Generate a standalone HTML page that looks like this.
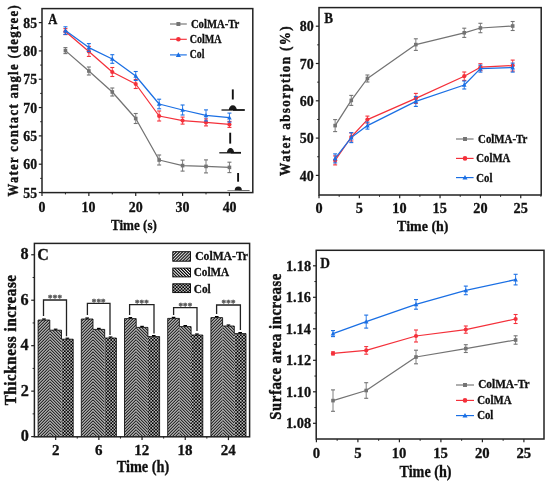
<!DOCTYPE html>
<html><head><meta charset="utf-8"><style>
html,body{margin:0;padding:0;background:#fff;}
svg{display:block;will-change:transform;}
text{font-family:"Liberation Serif",serif;}
</style></head><body>
<svg width="550" height="482" viewBox="0 0 550 482">
<rect width="550" height="482" fill="#fff"/>
<defs>
<pattern id="p1" width="2.16" height="4" patternUnits="userSpaceOnUse" patternTransform="rotate(45)"><rect width="1.18" height="4" fill="#000"/></pattern>
<pattern id="p2" width="2.16" height="4" patternUnits="userSpaceOnUse" patternTransform="rotate(-45)"><rect width="1.18" height="4" fill="#000"/></pattern>
<pattern id="p3" width="3.2" height="3.2" patternUnits="userSpaceOnUse"><rect width="3.2" height="3.2" fill="#000"/><rect x="0.1" y="0.1" width="1.35" height="1.35" fill="#fff"/><rect x="1.7" y="1.7" width="1.35" height="1.35" fill="#fff"/></pattern>
</defs>
<line x1="38.80" y1="192.52" x2="42.00" y2="192.52" stroke="#222" stroke-width="1.2" />
<text x="23.31" y="197.52" font-family="Liberation Serif, serif" font-weight="bold" font-size="15" fill="#111" stroke="#111" stroke-width="0.3" textLength="13.80" lengthAdjust="spacingAndGlyphs">55</text>
<line x1="38.80" y1="164.20" x2="42.00" y2="164.20" stroke="#222" stroke-width="1.2" />
<text x="23.32" y="169.20" font-family="Liberation Serif, serif" font-weight="bold" font-size="15" fill="#111" stroke="#111" stroke-width="0.3" textLength="13.80" lengthAdjust="spacingAndGlyphs">60</text>
<line x1="38.80" y1="135.88" x2="42.00" y2="135.88" stroke="#222" stroke-width="1.2" />
<text x="23.31" y="140.88" font-family="Liberation Serif, serif" font-weight="bold" font-size="15" fill="#111" stroke="#111" stroke-width="0.3" textLength="13.80" lengthAdjust="spacingAndGlyphs">65</text>
<line x1="38.80" y1="107.56" x2="42.00" y2="107.56" stroke="#222" stroke-width="1.2" />
<text x="23.32" y="112.56" font-family="Liberation Serif, serif" font-weight="bold" font-size="15" fill="#111" stroke="#111" stroke-width="0.3" textLength="13.80" lengthAdjust="spacingAndGlyphs">70</text>
<line x1="38.80" y1="79.24" x2="42.00" y2="79.24" stroke="#222" stroke-width="1.2" />
<text x="23.31" y="84.24" font-family="Liberation Serif, serif" font-weight="bold" font-size="15" fill="#111" stroke="#111" stroke-width="0.3" textLength="13.80" lengthAdjust="spacingAndGlyphs">75</text>
<line x1="38.80" y1="50.92" x2="42.00" y2="50.92" stroke="#222" stroke-width="1.2" />
<text x="23.32" y="55.92" font-family="Liberation Serif, serif" font-weight="bold" font-size="15" fill="#111" stroke="#111" stroke-width="0.3" textLength="13.80" lengthAdjust="spacingAndGlyphs">80</text>
<line x1="38.80" y1="22.60" x2="42.00" y2="22.60" stroke="#222" stroke-width="1.2" />
<text x="23.31" y="27.60" font-family="Liberation Serif, serif" font-weight="bold" font-size="15" fill="#111" stroke="#111" stroke-width="0.3" textLength="13.80" lengthAdjust="spacingAndGlyphs">85</text>
<line x1="40.20" y1="178.36" x2="42.00" y2="178.36" stroke="#222" stroke-width="1.0" />
<line x1="40.20" y1="150.04" x2="42.00" y2="150.04" stroke="#222" stroke-width="1.0" />
<line x1="40.20" y1="121.72" x2="42.00" y2="121.72" stroke="#222" stroke-width="1.0" />
<line x1="40.20" y1="93.40" x2="42.00" y2="93.40" stroke="#222" stroke-width="1.0" />
<line x1="40.20" y1="65.08" x2="42.00" y2="65.08" stroke="#222" stroke-width="1.0" />
<line x1="40.20" y1="36.76" x2="42.00" y2="36.76" stroke="#222" stroke-width="1.0" />
<line x1="42.00" y1="192.60" x2="42.00" y2="195.90" stroke="#222" stroke-width="1.2" />
<text x="38.52" y="212.00" font-family="Liberation Serif, serif" font-weight="bold" font-size="14.5" fill="#111" stroke="#111" stroke-width="0.3" textLength="6.96" lengthAdjust="spacingAndGlyphs">0</text>
<line x1="88.86" y1="192.60" x2="88.86" y2="195.90" stroke="#222" stroke-width="1.2" />
<text x="81.61" y="212.00" font-family="Liberation Serif, serif" font-weight="bold" font-size="14.5" fill="#111" stroke="#111" stroke-width="0.3" textLength="13.92" lengthAdjust="spacingAndGlyphs">10</text>
<line x1="135.72" y1="192.60" x2="135.72" y2="195.90" stroke="#222" stroke-width="1.2" />
<text x="128.73" y="212.00" font-family="Liberation Serif, serif" font-weight="bold" font-size="14.5" fill="#111" stroke="#111" stroke-width="0.3" textLength="13.92" lengthAdjust="spacingAndGlyphs">20</text>
<line x1="182.58" y1="192.60" x2="182.58" y2="195.90" stroke="#222" stroke-width="1.2" />
<text x="175.62" y="212.00" font-family="Liberation Serif, serif" font-weight="bold" font-size="14.5" fill="#111" stroke="#111" stroke-width="0.3" textLength="13.92" lengthAdjust="spacingAndGlyphs">30</text>
<line x1="229.44" y1="192.60" x2="229.44" y2="195.90" stroke="#222" stroke-width="1.2" />
<text x="222.65" y="212.00" font-family="Liberation Serif, serif" font-weight="bold" font-size="14.5" fill="#111" stroke="#111" stroke-width="0.3" textLength="13.92" lengthAdjust="spacingAndGlyphs">40</text>
<line x1="65.43" y1="192.60" x2="65.43" y2="194.40" stroke="#222" stroke-width="1.0" />
<line x1="112.29" y1="192.60" x2="112.29" y2="194.40" stroke="#222" stroke-width="1.0" />
<line x1="159.15" y1="192.60" x2="159.15" y2="194.40" stroke="#222" stroke-width="1.0" />
<line x1="206.01" y1="192.60" x2="206.01" y2="194.40" stroke="#222" stroke-width="1.0" />
<rect x="42" y="8.6" width="210.8" height="184.0" fill="none" stroke="#222" stroke-width="1.5"/>
<text x="48.27" y="24.30" font-family="Liberation Serif, serif" font-weight="bold" font-size="15.5" fill="#111" stroke="#111" stroke-width="0.3" textLength="9.12" lengthAdjust="spacingAndGlyphs">A</text>
<text transform="translate(17.90,196.38) rotate(-90) scale(0.82,1)" font-family="Liberation Serif, serif" font-weight="bold" font-size="15.5" fill="#111" stroke="#111" stroke-width="0.45" textLength="233.09" lengthAdjust="spacing">Water contact angle (degree)</text>
<text x="110.99" y="229.60" font-family="Liberation Serif, serif" font-weight="bold" font-size="15.3" fill="#111" stroke="#111" stroke-width="0.3" textLength="45.88" lengthAdjust="spacingAndGlyphs">Time (s)</text>
<polyline points="65.43,50.60 88.86,71.00 112.29,92.00 135.72,118.50 159.15,160.00 182.58,165.60 206.01,166.40 229.44,167.40" fill="none" stroke="#737373" stroke-width="1.25" stroke-linejoin="round"/>
<line x1="65.43" y1="47.60" x2="65.43" y2="53.60" stroke="#737373" stroke-width="0.9" />
<line x1="63.43" y1="47.60" x2="67.43" y2="47.60" stroke="#737373" stroke-width="1.1" />
<line x1="63.43" y1="53.60" x2="67.43" y2="53.60" stroke="#737373" stroke-width="1.1" />
<rect x="63.63" y="48.80" width="3.60" height="3.60" fill="#737373"/>
<line x1="88.86" y1="67.00" x2="88.86" y2="75.00" stroke="#737373" stroke-width="0.9" />
<line x1="86.86" y1="67.00" x2="90.86" y2="67.00" stroke="#737373" stroke-width="1.1" />
<line x1="86.86" y1="75.00" x2="90.86" y2="75.00" stroke="#737373" stroke-width="1.1" />
<rect x="87.06" y="69.20" width="3.60" height="3.60" fill="#737373"/>
<line x1="112.29" y1="88.00" x2="112.29" y2="96.00" stroke="#737373" stroke-width="0.9" />
<line x1="110.29" y1="88.00" x2="114.29" y2="88.00" stroke="#737373" stroke-width="1.1" />
<line x1="110.29" y1="96.00" x2="114.29" y2="96.00" stroke="#737373" stroke-width="1.1" />
<rect x="110.49" y="90.20" width="3.60" height="3.60" fill="#737373"/>
<line x1="135.72" y1="113.50" x2="135.72" y2="123.50" stroke="#737373" stroke-width="0.9" />
<line x1="133.72" y1="113.50" x2="137.72" y2="113.50" stroke="#737373" stroke-width="1.1" />
<line x1="133.72" y1="123.50" x2="137.72" y2="123.50" stroke="#737373" stroke-width="1.1" />
<rect x="133.92" y="116.70" width="3.60" height="3.60" fill="#737373"/>
<line x1="159.15" y1="155.00" x2="159.15" y2="165.00" stroke="#737373" stroke-width="0.9" />
<line x1="157.15" y1="155.00" x2="161.15" y2="155.00" stroke="#737373" stroke-width="1.1" />
<line x1="157.15" y1="165.00" x2="161.15" y2="165.00" stroke="#737373" stroke-width="1.1" />
<rect x="157.35" y="158.20" width="3.60" height="3.60" fill="#737373"/>
<line x1="182.58" y1="160.10" x2="182.58" y2="171.10" stroke="#737373" stroke-width="0.9" />
<line x1="180.58" y1="160.10" x2="184.58" y2="160.10" stroke="#737373" stroke-width="1.1" />
<line x1="180.58" y1="171.10" x2="184.58" y2="171.10" stroke="#737373" stroke-width="1.1" />
<rect x="180.78" y="163.80" width="3.60" height="3.60" fill="#737373"/>
<line x1="206.01" y1="159.90" x2="206.01" y2="172.90" stroke="#737373" stroke-width="0.9" />
<line x1="204.01" y1="159.90" x2="208.01" y2="159.90" stroke="#737373" stroke-width="1.1" />
<line x1="204.01" y1="172.90" x2="208.01" y2="172.90" stroke="#737373" stroke-width="1.1" />
<rect x="204.21" y="164.60" width="3.60" height="3.60" fill="#737373"/>
<line x1="229.44" y1="162.20" x2="229.44" y2="172.60" stroke="#737373" stroke-width="0.9" />
<line x1="227.44" y1="162.20" x2="231.44" y2="162.20" stroke="#737373" stroke-width="1.1" />
<line x1="227.44" y1="172.60" x2="231.44" y2="172.60" stroke="#737373" stroke-width="1.1" />
<rect x="227.64" y="165.60" width="3.60" height="3.60" fill="#737373"/>
<polyline points="65.43,31.60 88.86,51.40 112.29,72.00 135.72,84.00 159.15,116.00 182.58,120.60 206.01,122.40 229.44,124.40" fill="none" stroke="#f4303a" stroke-width="1.25" stroke-linejoin="round"/>
<line x1="65.43" y1="28.60" x2="65.43" y2="34.60" stroke="#f4303a" stroke-width="0.9" />
<line x1="63.43" y1="28.60" x2="67.43" y2="28.60" stroke="#f4303a" stroke-width="1.1" />
<line x1="63.43" y1="34.60" x2="67.43" y2="34.60" stroke="#f4303a" stroke-width="1.1" />
<circle cx="65.43" cy="31.60" r="2.10" fill="#f4303a"/>
<line x1="88.86" y1="46.40" x2="88.86" y2="56.40" stroke="#f4303a" stroke-width="0.9" />
<line x1="86.86" y1="46.40" x2="90.86" y2="46.40" stroke="#f4303a" stroke-width="1.1" />
<line x1="86.86" y1="56.40" x2="90.86" y2="56.40" stroke="#f4303a" stroke-width="1.1" />
<circle cx="88.86" cy="51.40" r="2.10" fill="#f4303a"/>
<line x1="112.29" y1="67.50" x2="112.29" y2="76.50" stroke="#f4303a" stroke-width="0.9" />
<line x1="110.29" y1="67.50" x2="114.29" y2="67.50" stroke="#f4303a" stroke-width="1.1" />
<line x1="110.29" y1="76.50" x2="114.29" y2="76.50" stroke="#f4303a" stroke-width="1.1" />
<circle cx="112.29" cy="72.00" r="2.10" fill="#f4303a"/>
<line x1="135.72" y1="79.50" x2="135.72" y2="88.50" stroke="#f4303a" stroke-width="0.9" />
<line x1="133.72" y1="79.50" x2="137.72" y2="79.50" stroke="#f4303a" stroke-width="1.1" />
<line x1="133.72" y1="88.50" x2="137.72" y2="88.50" stroke="#f4303a" stroke-width="1.1" />
<circle cx="135.72" cy="84.00" r="2.10" fill="#f4303a"/>
<line x1="159.15" y1="111.00" x2="159.15" y2="121.00" stroke="#f4303a" stroke-width="0.9" />
<line x1="157.15" y1="111.00" x2="161.15" y2="111.00" stroke="#f4303a" stroke-width="1.1" />
<line x1="157.15" y1="121.00" x2="161.15" y2="121.00" stroke="#f4303a" stroke-width="1.1" />
<circle cx="159.15" cy="116.00" r="2.10" fill="#f4303a"/>
<line x1="182.58" y1="117.10" x2="182.58" y2="124.10" stroke="#f4303a" stroke-width="0.9" />
<line x1="180.58" y1="117.10" x2="184.58" y2="117.10" stroke="#f4303a" stroke-width="1.1" />
<line x1="180.58" y1="124.10" x2="184.58" y2="124.10" stroke="#f4303a" stroke-width="1.1" />
<circle cx="182.58" cy="120.60" r="2.10" fill="#f4303a"/>
<line x1="206.01" y1="118.90" x2="206.01" y2="125.90" stroke="#f4303a" stroke-width="0.9" />
<line x1="204.01" y1="118.90" x2="208.01" y2="118.90" stroke="#f4303a" stroke-width="1.1" />
<line x1="204.01" y1="125.90" x2="208.01" y2="125.90" stroke="#f4303a" stroke-width="1.1" />
<circle cx="206.01" cy="122.40" r="2.10" fill="#f4303a"/>
<line x1="229.44" y1="121.40" x2="229.44" y2="127.40" stroke="#f4303a" stroke-width="0.9" />
<line x1="227.44" y1="121.40" x2="231.44" y2="121.40" stroke="#f4303a" stroke-width="1.1" />
<line x1="227.44" y1="127.40" x2="231.44" y2="127.40" stroke="#f4303a" stroke-width="1.1" />
<circle cx="229.44" cy="124.40" r="2.10" fill="#f4303a"/>
<polyline points="65.43,30.60 88.86,47.60 112.29,59.00 135.72,76.00 159.15,104.00 182.58,110.00 206.01,115.40 229.44,117.60" fill="none" stroke="#1a6fe4" stroke-width="1.25" stroke-linejoin="round"/>
<line x1="65.43" y1="26.80" x2="65.43" y2="34.40" stroke="#1a6fe4" stroke-width="0.9" />
<line x1="63.43" y1="26.80" x2="67.43" y2="26.80" stroke="#1a6fe4" stroke-width="1.1" />
<line x1="63.43" y1="34.40" x2="67.43" y2="34.40" stroke="#1a6fe4" stroke-width="1.1" />
<path d="M65.43,28.20 L67.73,32.40 L63.13,32.40 Z" fill="#1a6fe4"/>
<line x1="88.86" y1="43.60" x2="88.86" y2="51.60" stroke="#1a6fe4" stroke-width="0.9" />
<line x1="86.86" y1="43.60" x2="90.86" y2="43.60" stroke="#1a6fe4" stroke-width="1.1" />
<line x1="86.86" y1="51.60" x2="90.86" y2="51.60" stroke="#1a6fe4" stroke-width="1.1" />
<path d="M88.86,45.20 L91.16,49.40 L86.56,49.40 Z" fill="#1a6fe4"/>
<line x1="112.29" y1="54.70" x2="112.29" y2="63.30" stroke="#1a6fe4" stroke-width="0.9" />
<line x1="110.29" y1="54.70" x2="114.29" y2="54.70" stroke="#1a6fe4" stroke-width="1.1" />
<line x1="110.29" y1="63.30" x2="114.29" y2="63.30" stroke="#1a6fe4" stroke-width="1.1" />
<path d="M112.29,56.60 L114.59,60.80 L109.99,60.80 Z" fill="#1a6fe4"/>
<line x1="135.72" y1="71.50" x2="135.72" y2="80.50" stroke="#1a6fe4" stroke-width="0.9" />
<line x1="133.72" y1="71.50" x2="137.72" y2="71.50" stroke="#1a6fe4" stroke-width="1.1" />
<line x1="133.72" y1="80.50" x2="137.72" y2="80.50" stroke="#1a6fe4" stroke-width="1.1" />
<path d="M135.72,73.60 L138.02,77.80 L133.42,77.80 Z" fill="#1a6fe4"/>
<line x1="159.15" y1="99.20" x2="159.15" y2="108.80" stroke="#1a6fe4" stroke-width="0.9" />
<line x1="157.15" y1="99.20" x2="161.15" y2="99.20" stroke="#1a6fe4" stroke-width="1.1" />
<line x1="157.15" y1="108.80" x2="161.15" y2="108.80" stroke="#1a6fe4" stroke-width="1.1" />
<path d="M159.15,101.60 L161.45,105.80 L156.85,105.80 Z" fill="#1a6fe4"/>
<line x1="182.58" y1="105.00" x2="182.58" y2="115.00" stroke="#1a6fe4" stroke-width="0.9" />
<line x1="180.58" y1="105.00" x2="184.58" y2="105.00" stroke="#1a6fe4" stroke-width="1.1" />
<line x1="180.58" y1="115.00" x2="184.58" y2="115.00" stroke="#1a6fe4" stroke-width="1.1" />
<path d="M182.58,107.60 L184.88,111.80 L180.28,111.80 Z" fill="#1a6fe4"/>
<line x1="206.01" y1="109.90" x2="206.01" y2="120.90" stroke="#1a6fe4" stroke-width="0.9" />
<line x1="204.01" y1="109.90" x2="208.01" y2="109.90" stroke="#1a6fe4" stroke-width="1.1" />
<line x1="204.01" y1="120.90" x2="208.01" y2="120.90" stroke="#1a6fe4" stroke-width="1.1" />
<path d="M206.01,113.00 L208.31,117.20 L203.71,117.20 Z" fill="#1a6fe4"/>
<line x1="229.44" y1="113.10" x2="229.44" y2="122.10" stroke="#1a6fe4" stroke-width="0.9" />
<line x1="227.44" y1="113.10" x2="231.44" y2="113.10" stroke="#1a6fe4" stroke-width="1.1" />
<line x1="227.44" y1="122.10" x2="231.44" y2="122.10" stroke="#1a6fe4" stroke-width="1.1" />
<path d="M229.44,115.20 L231.74,119.40 L227.14,119.40 Z" fill="#1a6fe4"/>
<line x1="170.00" y1="24.00" x2="186.80" y2="24.00" stroke="#737373" stroke-width="1.15" />
<rect x="176.42" y="22.02" width="3.96" height="3.96" fill="#737373"/>
<text x="190.88" y="28.20" font-family="Liberation Serif, serif" font-weight="bold" font-size="11.7" fill="#111" stroke="#111" stroke-width="0.3" textLength="48.45" lengthAdjust="spacingAndGlyphs">ColMA-Tr</text>
<line x1="170.00" y1="39.30" x2="186.80" y2="39.30" stroke="#f4303a" stroke-width="1.15" />
<circle cx="178.40" cy="39.30" r="2.31" fill="#f4303a"/>
<text x="189.71" y="42.90" font-family="Liberation Serif, serif" font-weight="bold" font-size="11.7" fill="#111" stroke="#111" stroke-width="0.3" textLength="31.76" lengthAdjust="spacingAndGlyphs">ColMA</text>
<line x1="170.00" y1="54.90" x2="186.80" y2="54.90" stroke="#1a6fe4" stroke-width="1.15" />
<path d="M178.40,52.26 L180.93,56.88 L175.87,56.88 Z" fill="#1a6fe4"/>
<text x="189.72" y="58.10" font-family="Liberation Serif, serif" font-weight="bold" font-size="11.7" fill="#111" stroke="#111" stroke-width="0.3" textLength="14.64" lengthAdjust="spacingAndGlyphs">Col</text>
<line x1="232.80" y1="89.40" x2="232.80" y2="99.50" stroke="#111" stroke-width="1.9" />
<path d="M228.80,110.00 A4.00,4.70 0 0 1 236.80,110.00 Z" fill="#1a1a1a"/>
<line x1="221.50" y1="110.00" x2="232.80" y2="110.00" stroke="#111" stroke-width="1.26" />
<line x1="232.80" y1="110.00" x2="244.80" y2="110.00" stroke="#111" stroke-width="1.8" />
<line x1="230.20" y1="132.70" x2="230.20" y2="143.60" stroke="#111" stroke-width="1.9" />
<path d="M226.90,152.80 A3.60,4.70 0 0 1 234.10,152.80 Z" fill="#1a1a1a"/>
<line x1="219.30" y1="152.80" x2="230.50" y2="152.80" stroke="#111" stroke-width="1.26" />
<line x1="230.50" y1="152.80" x2="241.00" y2="152.80" stroke="#111" stroke-width="1.8" />
<line x1="238.10" y1="173.00" x2="238.10" y2="181.70" stroke="#111" stroke-width="1.9" />
<path d="M234.70,190.50 A3.60,4.00 0 0 1 241.90,190.50 Z" fill="#1a1a1a"/>
<line x1="227.40" y1="190.50" x2="238.30" y2="190.50" stroke="#555" stroke-width="0.63" />
<line x1="238.30" y1="190.50" x2="249.60" y2="190.50" stroke="#555" stroke-width="0.9" />
<line x1="315.80" y1="175.40" x2="319.00" y2="175.40" stroke="#222" stroke-width="1.2" />
<text x="299.78" y="180.50" font-family="Liberation Serif, serif" font-weight="bold" font-size="15" fill="#111" stroke="#111" stroke-width="0.3" textLength="13.95" lengthAdjust="spacingAndGlyphs">40</text>
<line x1="315.80" y1="138.10" x2="319.00" y2="138.10" stroke="#222" stroke-width="1.2" />
<text x="299.78" y="143.20" font-family="Liberation Serif, serif" font-weight="bold" font-size="15" fill="#111" stroke="#111" stroke-width="0.3" textLength="13.95" lengthAdjust="spacingAndGlyphs">50</text>
<line x1="315.80" y1="100.80" x2="319.00" y2="100.80" stroke="#222" stroke-width="1.2" />
<text x="299.78" y="105.90" font-family="Liberation Serif, serif" font-weight="bold" font-size="15" fill="#111" stroke="#111" stroke-width="0.3" textLength="13.95" lengthAdjust="spacingAndGlyphs">60</text>
<line x1="315.80" y1="63.50" x2="319.00" y2="63.50" stroke="#222" stroke-width="1.2" />
<text x="299.78" y="68.60" font-family="Liberation Serif, serif" font-weight="bold" font-size="15" fill="#111" stroke="#111" stroke-width="0.3" textLength="13.95" lengthAdjust="spacingAndGlyphs">70</text>
<line x1="315.80" y1="26.20" x2="319.00" y2="26.20" stroke="#222" stroke-width="1.2" />
<text x="299.78" y="31.30" font-family="Liberation Serif, serif" font-weight="bold" font-size="15" fill="#111" stroke="#111" stroke-width="0.3" textLength="13.95" lengthAdjust="spacingAndGlyphs">80</text>
<line x1="317.20" y1="156.75" x2="319.00" y2="156.75" stroke="#222" stroke-width="1.0" />
<line x1="317.20" y1="119.45" x2="319.00" y2="119.45" stroke="#222" stroke-width="1.0" />
<line x1="317.20" y1="82.15" x2="319.00" y2="82.15" stroke="#222" stroke-width="1.0" />
<line x1="317.20" y1="44.85" x2="319.00" y2="44.85" stroke="#222" stroke-width="1.0" />
<line x1="319.00" y1="195.00" x2="319.00" y2="198.30" stroke="#222" stroke-width="1.2" />
<text x="315.44" y="213.40" font-family="Liberation Serif, serif" font-weight="bold" font-size="15" fill="#111" stroke="#111" stroke-width="0.3" textLength="7.13" lengthAdjust="spacingAndGlyphs">0</text>
<line x1="359.35" y1="195.00" x2="359.35" y2="198.30" stroke="#222" stroke-width="1.2" />
<text x="355.77" y="213.40" font-family="Liberation Serif, serif" font-weight="bold" font-size="15" fill="#111" stroke="#111" stroke-width="0.3" textLength="7.12" lengthAdjust="spacingAndGlyphs">5</text>
<line x1="399.70" y1="195.00" x2="399.70" y2="198.30" stroke="#222" stroke-width="1.2" />
<text x="392.28" y="213.40" font-family="Liberation Serif, serif" font-weight="bold" font-size="15" fill="#111" stroke="#111" stroke-width="0.3" textLength="14.25" lengthAdjust="spacingAndGlyphs">10</text>
<line x1="440.05" y1="195.00" x2="440.05" y2="198.30" stroke="#222" stroke-width="1.2" />
<text x="432.62" y="213.40" font-family="Liberation Serif, serif" font-weight="bold" font-size="15" fill="#111" stroke="#111" stroke-width="0.3" textLength="14.25" lengthAdjust="spacingAndGlyphs">15</text>
<line x1="480.40" y1="195.00" x2="480.40" y2="198.30" stroke="#222" stroke-width="1.2" />
<text x="473.25" y="213.40" font-family="Liberation Serif, serif" font-weight="bold" font-size="15" fill="#111" stroke="#111" stroke-width="0.3" textLength="14.25" lengthAdjust="spacingAndGlyphs">20</text>
<line x1="520.75" y1="195.00" x2="520.75" y2="198.30" stroke="#222" stroke-width="1.2" />
<text x="513.59" y="213.40" font-family="Liberation Serif, serif" font-weight="bold" font-size="15" fill="#111" stroke="#111" stroke-width="0.3" textLength="14.25" lengthAdjust="spacingAndGlyphs">25</text>
<line x1="339.18" y1="195.00" x2="339.18" y2="196.80" stroke="#222" stroke-width="1.0" />
<line x1="379.52" y1="195.00" x2="379.52" y2="196.80" stroke="#222" stroke-width="1.0" />
<line x1="419.88" y1="195.00" x2="419.88" y2="196.80" stroke="#222" stroke-width="1.0" />
<line x1="460.23" y1="195.00" x2="460.23" y2="196.80" stroke="#222" stroke-width="1.0" />
<line x1="500.58" y1="195.00" x2="500.58" y2="196.80" stroke="#222" stroke-width="1.0" />
<line x1="540.92" y1="195.00" x2="540.92" y2="196.80" stroke="#222" stroke-width="1.0" />
<rect x="319" y="7.6" width="222.20000000000005" height="187.4" fill="none" stroke="#222" stroke-width="1.5"/>
<text x="324.28" y="22.70" font-family="Liberation Serif, serif" font-weight="bold" font-size="15.3" fill="#111" stroke="#111" stroke-width="0.3" textLength="8.79" lengthAdjust="spacingAndGlyphs">B</text>
<text transform="translate(289.80,175.88) rotate(-90) scale(0.85,1)" font-family="Liberation Serif, serif" font-weight="bold" font-size="15.5" fill="#111" stroke="#111" stroke-width="0.45" textLength="175.84" lengthAdjust="spacing">Water absorption (%)</text>
<text x="397.08" y="230.60" font-family="Liberation Serif, serif" font-weight="bold" font-size="15.4" fill="#111" stroke="#111" stroke-width="0.3" textLength="51.44" lengthAdjust="spacingAndGlyphs">Time (h)</text>
<polyline points="335.14,125.60 351.28,100.40 367.42,78.50 415.84,44.60 464.26,32.80 480.40,28.00 512.68,26.00" fill="none" stroke="#737373" stroke-width="1.25" stroke-linejoin="round"/>
<line x1="335.14" y1="119.60" x2="335.14" y2="131.60" stroke="#737373" stroke-width="0.9" />
<line x1="333.14" y1="119.60" x2="337.14" y2="119.60" stroke="#737373" stroke-width="1.1" />
<line x1="333.14" y1="131.60" x2="337.14" y2="131.60" stroke="#737373" stroke-width="1.1" />
<rect x="333.34" y="123.80" width="3.60" height="3.60" fill="#737373"/>
<line x1="351.28" y1="95.40" x2="351.28" y2="105.40" stroke="#737373" stroke-width="0.9" />
<line x1="349.28" y1="95.40" x2="353.28" y2="95.40" stroke="#737373" stroke-width="1.1" />
<line x1="349.28" y1="105.40" x2="353.28" y2="105.40" stroke="#737373" stroke-width="1.1" />
<rect x="349.48" y="98.60" width="3.60" height="3.60" fill="#737373"/>
<line x1="367.42" y1="75.00" x2="367.42" y2="82.00" stroke="#737373" stroke-width="0.9" />
<line x1="365.42" y1="75.00" x2="369.42" y2="75.00" stroke="#737373" stroke-width="1.1" />
<line x1="365.42" y1="82.00" x2="369.42" y2="82.00" stroke="#737373" stroke-width="1.1" />
<rect x="365.62" y="76.70" width="3.60" height="3.60" fill="#737373"/>
<line x1="415.84" y1="38.80" x2="415.84" y2="50.40" stroke="#737373" stroke-width="0.9" />
<line x1="413.84" y1="38.80" x2="417.84" y2="38.80" stroke="#737373" stroke-width="1.1" />
<line x1="413.84" y1="50.40" x2="417.84" y2="50.40" stroke="#737373" stroke-width="1.1" />
<rect x="414.04" y="42.80" width="3.60" height="3.60" fill="#737373"/>
<line x1="464.26" y1="28.20" x2="464.26" y2="37.40" stroke="#737373" stroke-width="0.9" />
<line x1="462.26" y1="28.20" x2="466.26" y2="28.20" stroke="#737373" stroke-width="1.1" />
<line x1="462.26" y1="37.40" x2="466.26" y2="37.40" stroke="#737373" stroke-width="1.1" />
<rect x="462.46" y="31.00" width="3.60" height="3.60" fill="#737373"/>
<line x1="480.40" y1="23.30" x2="480.40" y2="32.70" stroke="#737373" stroke-width="0.9" />
<line x1="478.40" y1="23.30" x2="482.40" y2="23.30" stroke="#737373" stroke-width="1.1" />
<line x1="478.40" y1="32.70" x2="482.40" y2="32.70" stroke="#737373" stroke-width="1.1" />
<rect x="478.60" y="26.20" width="3.60" height="3.60" fill="#737373"/>
<line x1="512.68" y1="21.50" x2="512.68" y2="30.50" stroke="#737373" stroke-width="0.9" />
<line x1="510.68" y1="21.50" x2="514.68" y2="21.50" stroke="#737373" stroke-width="1.1" />
<line x1="510.68" y1="30.50" x2="514.68" y2="30.50" stroke="#737373" stroke-width="1.1" />
<rect x="510.88" y="24.20" width="3.60" height="3.60" fill="#737373"/>
<polyline points="335.14,160.40 351.28,137.00 367.42,119.60 415.84,98.40 464.26,76.20 480.40,67.20 512.68,65.60" fill="none" stroke="#f4303a" stroke-width="1.25" stroke-linejoin="round"/>
<line x1="335.14" y1="155.90" x2="335.14" y2="164.90" stroke="#f4303a" stroke-width="0.9" />
<line x1="333.14" y1="155.90" x2="337.14" y2="155.90" stroke="#f4303a" stroke-width="1.1" />
<line x1="333.14" y1="164.90" x2="337.14" y2="164.90" stroke="#f4303a" stroke-width="1.1" />
<circle cx="335.14" cy="160.40" r="2.10" fill="#f4303a"/>
<line x1="351.28" y1="133.00" x2="351.28" y2="141.00" stroke="#f4303a" stroke-width="0.9" />
<line x1="349.28" y1="133.00" x2="353.28" y2="133.00" stroke="#f4303a" stroke-width="1.1" />
<line x1="349.28" y1="141.00" x2="353.28" y2="141.00" stroke="#f4303a" stroke-width="1.1" />
<circle cx="351.28" cy="137.00" r="2.10" fill="#f4303a"/>
<line x1="367.42" y1="116.10" x2="367.42" y2="123.10" stroke="#f4303a" stroke-width="0.9" />
<line x1="365.42" y1="116.10" x2="369.42" y2="116.10" stroke="#f4303a" stroke-width="1.1" />
<line x1="365.42" y1="123.10" x2="369.42" y2="123.10" stroke="#f4303a" stroke-width="1.1" />
<circle cx="367.42" cy="119.60" r="2.10" fill="#f4303a"/>
<line x1="415.84" y1="93.40" x2="415.84" y2="103.40" stroke="#f4303a" stroke-width="0.9" />
<line x1="413.84" y1="93.40" x2="417.84" y2="93.40" stroke="#f4303a" stroke-width="1.1" />
<line x1="413.84" y1="103.40" x2="417.84" y2="103.40" stroke="#f4303a" stroke-width="1.1" />
<circle cx="415.84" cy="98.40" r="2.10" fill="#f4303a"/>
<line x1="464.26" y1="72.00" x2="464.26" y2="80.40" stroke="#f4303a" stroke-width="0.9" />
<line x1="462.26" y1="72.00" x2="466.26" y2="72.00" stroke="#f4303a" stroke-width="1.1" />
<line x1="462.26" y1="80.40" x2="466.26" y2="80.40" stroke="#f4303a" stroke-width="1.1" />
<circle cx="464.26" cy="76.20" r="2.10" fill="#f4303a"/>
<line x1="480.40" y1="63.70" x2="480.40" y2="70.70" stroke="#f4303a" stroke-width="0.9" />
<line x1="478.40" y1="63.70" x2="482.40" y2="63.70" stroke="#f4303a" stroke-width="1.1" />
<line x1="478.40" y1="70.70" x2="482.40" y2="70.70" stroke="#f4303a" stroke-width="1.1" />
<circle cx="480.40" cy="67.20" r="2.10" fill="#f4303a"/>
<line x1="512.68" y1="60.10" x2="512.68" y2="71.10" stroke="#f4303a" stroke-width="0.9" />
<line x1="510.68" y1="60.10" x2="514.68" y2="60.10" stroke="#f4303a" stroke-width="1.1" />
<line x1="510.68" y1="71.10" x2="514.68" y2="71.10" stroke="#f4303a" stroke-width="1.1" />
<circle cx="512.68" cy="65.60" r="2.10" fill="#f4303a"/>
<polyline points="335.14,158.40 351.28,137.60 367.42,125.60 415.84,101.40 464.26,85.00 480.40,68.60 512.68,67.60" fill="none" stroke="#1a6fe4" stroke-width="1.25" stroke-linejoin="round"/>
<line x1="335.14" y1="153.90" x2="335.14" y2="162.90" stroke="#1a6fe4" stroke-width="0.9" />
<line x1="333.14" y1="153.90" x2="337.14" y2="153.90" stroke="#1a6fe4" stroke-width="1.1" />
<line x1="333.14" y1="162.90" x2="337.14" y2="162.90" stroke="#1a6fe4" stroke-width="1.1" />
<path d="M335.14,156.00 L337.44,160.20 L332.84,160.20 Z" fill="#1a6fe4"/>
<line x1="351.28" y1="132.60" x2="351.28" y2="142.60" stroke="#1a6fe4" stroke-width="0.9" />
<line x1="349.28" y1="132.60" x2="353.28" y2="132.60" stroke="#1a6fe4" stroke-width="1.1" />
<line x1="349.28" y1="142.60" x2="353.28" y2="142.60" stroke="#1a6fe4" stroke-width="1.1" />
<path d="M351.28,135.20 L353.58,139.40 L348.98,139.40 Z" fill="#1a6fe4"/>
<line x1="367.42" y1="122.10" x2="367.42" y2="129.10" stroke="#1a6fe4" stroke-width="0.9" />
<line x1="365.42" y1="122.10" x2="369.42" y2="122.10" stroke="#1a6fe4" stroke-width="1.1" />
<line x1="365.42" y1="129.10" x2="369.42" y2="129.10" stroke="#1a6fe4" stroke-width="1.1" />
<path d="M367.42,123.20 L369.72,127.40 L365.12,127.40 Z" fill="#1a6fe4"/>
<line x1="415.84" y1="96.40" x2="415.84" y2="106.40" stroke="#1a6fe4" stroke-width="0.9" />
<line x1="413.84" y1="96.40" x2="417.84" y2="96.40" stroke="#1a6fe4" stroke-width="1.1" />
<line x1="413.84" y1="106.40" x2="417.84" y2="106.40" stroke="#1a6fe4" stroke-width="1.1" />
<path d="M415.84,99.00 L418.14,103.20 L413.54,103.20 Z" fill="#1a6fe4"/>
<line x1="464.26" y1="81.00" x2="464.26" y2="89.00" stroke="#1a6fe4" stroke-width="0.9" />
<line x1="462.26" y1="81.00" x2="466.26" y2="81.00" stroke="#1a6fe4" stroke-width="1.1" />
<line x1="462.26" y1="89.00" x2="466.26" y2="89.00" stroke="#1a6fe4" stroke-width="1.1" />
<path d="M464.26,82.60 L466.56,86.80 L461.96,86.80 Z" fill="#1a6fe4"/>
<line x1="480.40" y1="65.10" x2="480.40" y2="72.10" stroke="#1a6fe4" stroke-width="0.9" />
<line x1="478.40" y1="65.10" x2="482.40" y2="65.10" stroke="#1a6fe4" stroke-width="1.1" />
<line x1="478.40" y1="72.10" x2="482.40" y2="72.10" stroke="#1a6fe4" stroke-width="1.1" />
<path d="M480.40,66.20 L482.70,70.40 L478.10,70.40 Z" fill="#1a6fe4"/>
<line x1="512.68" y1="63.10" x2="512.68" y2="72.10" stroke="#1a6fe4" stroke-width="0.9" />
<line x1="510.68" y1="63.10" x2="514.68" y2="63.10" stroke="#1a6fe4" stroke-width="1.1" />
<line x1="510.68" y1="72.10" x2="514.68" y2="72.10" stroke="#1a6fe4" stroke-width="1.1" />
<path d="M512.68,65.20 L514.98,69.40 L510.38,69.40 Z" fill="#1a6fe4"/>
<line x1="456.00" y1="139.00" x2="473.60" y2="139.00" stroke="#737373" stroke-width="1.15" />
<rect x="463.02" y="137.02" width="3.96" height="3.96" fill="#737373"/>
<text x="478.07" y="142.50" font-family="Liberation Serif, serif" font-weight="bold" font-size="11.5" fill="#111" stroke="#111" stroke-width="0.3" textLength="49.27" lengthAdjust="spacingAndGlyphs">ColMA-Tr</text>
<line x1="456.00" y1="158.40" x2="473.60" y2="158.40" stroke="#f4303a" stroke-width="1.15" />
<circle cx="465.00" cy="158.40" r="2.31" fill="#f4303a"/>
<text x="476.37" y="161.90" font-family="Liberation Serif, serif" font-weight="bold" font-size="11.5" fill="#111" stroke="#111" stroke-width="0.3" textLength="34.00" lengthAdjust="spacingAndGlyphs">ColMA</text>
<line x1="456.00" y1="177.60" x2="473.60" y2="177.60" stroke="#1a6fe4" stroke-width="1.15" />
<path d="M465.00,174.96 L467.53,179.58 L462.47,179.58 Z" fill="#1a6fe4"/>
<text x="476.37" y="181.50" font-family="Liberation Serif, serif" font-weight="bold" font-size="11.5" fill="#111" stroke="#111" stroke-width="0.3" textLength="16.11" lengthAdjust="spacingAndGlyphs">Col</text>
<line x1="31.20" y1="436.60" x2="34.40" y2="436.60" stroke="#222" stroke-width="1.2" />
<text x="20.72" y="441.30" font-family="Liberation Serif, serif" font-weight="bold" font-size="16.2" fill="#111" stroke="#111" stroke-width="0.3" textLength="8.10" lengthAdjust="spacingAndGlyphs">0</text>
<line x1="31.20" y1="391.14" x2="34.40" y2="391.14" stroke="#222" stroke-width="1.2" />
<text x="20.80" y="395.84" font-family="Liberation Serif, serif" font-weight="bold" font-size="16.2" fill="#111" stroke="#111" stroke-width="0.3" textLength="8.10" lengthAdjust="spacingAndGlyphs">2</text>
<line x1="31.20" y1="345.68" x2="34.40" y2="345.68" stroke="#222" stroke-width="1.2" />
<text x="20.41" y="350.38" font-family="Liberation Serif, serif" font-weight="bold" font-size="16.2" fill="#111" stroke="#111" stroke-width="0.3" textLength="8.10" lengthAdjust="spacingAndGlyphs">4</text>
<line x1="31.20" y1="300.22" x2="34.40" y2="300.22" stroke="#222" stroke-width="1.2" />
<text x="20.57" y="304.92" font-family="Liberation Serif, serif" font-weight="bold" font-size="16.2" fill="#111" stroke="#111" stroke-width="0.3" textLength="8.10" lengthAdjust="spacingAndGlyphs">6</text>
<line x1="31.20" y1="254.76" x2="34.40" y2="254.76" stroke="#222" stroke-width="1.2" />
<text x="20.63" y="259.46" font-family="Liberation Serif, serif" font-weight="bold" font-size="16.2" fill="#111" stroke="#111" stroke-width="0.3" textLength="8.10" lengthAdjust="spacingAndGlyphs">8</text>
<line x1="32.60" y1="413.87" x2="34.40" y2="413.87" stroke="#222" stroke-width="1.0" />
<line x1="32.60" y1="368.41" x2="34.40" y2="368.41" stroke="#222" stroke-width="1.0" />
<line x1="32.60" y1="322.95" x2="34.40" y2="322.95" stroke="#222" stroke-width="1.0" />
<line x1="32.60" y1="277.49" x2="34.40" y2="277.49" stroke="#222" stroke-width="1.0" />
<line x1="55.65" y1="436.80" x2="55.65" y2="440.10" stroke="#222" stroke-width="1.2" />
<text x="51.91" y="455.30" font-family="Liberation Serif, serif" font-weight="bold" font-size="15" fill="#111" stroke="#111" stroke-width="0.3" textLength="7.50" lengthAdjust="spacingAndGlyphs">2</text>
<line x1="77.25" y1="436.80" x2="77.25" y2="438.60" stroke="#222" stroke-width="1.0" />
<defs><pattern id="p1g0" width="2.12132" height="4" patternUnits="userSpaceOnUse" patternTransform="translate(50,0) rotate(45)"><rect width="1.17" height="4" fill="#000"/></pattern><pattern id="p2g0" width="2.12132" height="4" patternUnits="userSpaceOnUse" patternTransform="translate(50,0) rotate(-45)"><rect x="0.9513" width="1.17" height="4" fill="#000"/></pattern></defs>
<rect x="38.10" y="320.00" width="11.70" height="116.80" fill="url(#p1g0)"/>
<rect x="49.80" y="330.20" width="11.70" height="106.60" fill="url(#p2g0)"/>
<rect x="61.50" y="339.20" width="11.70" height="97.60" fill="url(#p3)"/>
<path d="M38.10,436.8 V320 H49.80 V330.2 H61.50 V339.2 H73.20 V436.8" fill="none" stroke="#000" stroke-width="0.8"/>
<line x1="42.15" y1="319.00" x2="45.75" y2="319.00" stroke="#000" stroke-width="1.2" />
<line x1="43.95" y1="319.00" x2="43.95" y2="320.00" stroke="#000" stroke-width="0.9" />
<line x1="53.85" y1="329.20" x2="57.45" y2="329.20" stroke="#000" stroke-width="1.2" />
<line x1="55.65" y1="329.20" x2="55.65" y2="330.20" stroke="#000" stroke-width="0.9" />
<line x1="65.55" y1="338.20" x2="69.15" y2="338.20" stroke="#000" stroke-width="1.2" />
<line x1="67.35" y1="338.20" x2="67.35" y2="339.20" stroke="#000" stroke-width="0.9" />
<line x1="98.85" y1="436.80" x2="98.85" y2="440.10" stroke="#222" stroke-width="1.2" />
<text x="95.06" y="455.30" font-family="Liberation Serif, serif" font-weight="bold" font-size="15" fill="#111" stroke="#111" stroke-width="0.3" textLength="7.50" lengthAdjust="spacingAndGlyphs">6</text>
<line x1="120.45" y1="436.80" x2="120.45" y2="438.60" stroke="#222" stroke-width="1.0" />
<defs><pattern id="p1g1" width="2.12132" height="4" patternUnits="userSpaceOnUse" patternTransform="translate(93,0) rotate(45)"><rect width="1.17" height="4" fill="#000"/></pattern><pattern id="p2g1" width="2.12132" height="4" patternUnits="userSpaceOnUse" patternTransform="translate(93,0) rotate(-45)"><rect x="0.9513" width="1.17" height="4" fill="#000"/></pattern></defs>
<rect x="81.30" y="319.00" width="11.70" height="117.80" fill="url(#p1g1)"/>
<rect x="93.00" y="329.40" width="11.70" height="107.40" fill="url(#p2g1)"/>
<rect x="104.70" y="338.00" width="11.70" height="98.80" fill="url(#p3)"/>
<path d="M81.30,436.8 V319 H93.00 V329.4 H104.70 V338 H116.40 V436.8" fill="none" stroke="#000" stroke-width="0.8"/>
<line x1="85.35" y1="318.00" x2="88.95" y2="318.00" stroke="#000" stroke-width="1.2" />
<line x1="87.15" y1="318.00" x2="87.15" y2="319.00" stroke="#000" stroke-width="0.9" />
<line x1="97.05" y1="328.40" x2="100.65" y2="328.40" stroke="#000" stroke-width="1.2" />
<line x1="98.85" y1="328.40" x2="98.85" y2="329.40" stroke="#000" stroke-width="0.9" />
<line x1="108.75" y1="337.00" x2="112.35" y2="337.00" stroke="#000" stroke-width="1.2" />
<line x1="110.55" y1="337.00" x2="110.55" y2="338.00" stroke="#000" stroke-width="0.9" />
<line x1="142.05" y1="436.80" x2="142.05" y2="440.10" stroke="#222" stroke-width="1.2" />
<text x="134.27" y="455.30" font-family="Liberation Serif, serif" font-weight="bold" font-size="15" fill="#111" stroke="#111" stroke-width="0.3" textLength="15.00" lengthAdjust="spacingAndGlyphs">12</text>
<line x1="163.65" y1="436.80" x2="163.65" y2="438.60" stroke="#222" stroke-width="1.0" />
<defs><pattern id="p1g2" width="2.12132" height="4" patternUnits="userSpaceOnUse" patternTransform="translate(136,0) rotate(45)"><rect width="1.17" height="4" fill="#000"/></pattern><pattern id="p2g2" width="2.12132" height="4" patternUnits="userSpaceOnUse" patternTransform="translate(136,0) rotate(-45)"><rect x="0.9513" width="1.17" height="4" fill="#000"/></pattern></defs>
<rect x="124.50" y="318.60" width="11.70" height="118.20" fill="url(#p1g2)"/>
<rect x="136.20" y="327.40" width="11.70" height="109.40" fill="url(#p2g2)"/>
<rect x="147.90" y="336.60" width="11.70" height="100.20" fill="url(#p3)"/>
<path d="M124.50,436.8 V318.6 H136.20 V327.4 H147.90 V336.6 H159.60 V436.8" fill="none" stroke="#000" stroke-width="0.8"/>
<line x1="128.55" y1="317.60" x2="132.15" y2="317.60" stroke="#000" stroke-width="1.2" />
<line x1="130.35" y1="317.60" x2="130.35" y2="318.60" stroke="#000" stroke-width="0.9" />
<line x1="140.25" y1="326.40" x2="143.85" y2="326.40" stroke="#000" stroke-width="1.2" />
<line x1="142.05" y1="326.40" x2="142.05" y2="327.40" stroke="#000" stroke-width="0.9" />
<line x1="151.95" y1="335.60" x2="155.55" y2="335.60" stroke="#000" stroke-width="1.2" />
<line x1="153.75" y1="335.60" x2="153.75" y2="336.60" stroke="#000" stroke-width="0.9" />
<line x1="185.25" y1="436.80" x2="185.25" y2="440.10" stroke="#222" stroke-width="1.2" />
<text x="177.40" y="455.30" font-family="Liberation Serif, serif" font-weight="bold" font-size="15" fill="#111" stroke="#111" stroke-width="0.3" textLength="15.00" lengthAdjust="spacingAndGlyphs">18</text>
<line x1="206.85" y1="436.80" x2="206.85" y2="438.60" stroke="#222" stroke-width="1.0" />
<defs><pattern id="p1g3" width="2.12132" height="4" patternUnits="userSpaceOnUse" patternTransform="translate(179,0) rotate(45)"><rect width="1.17" height="4" fill="#000"/></pattern><pattern id="p2g3" width="2.12132" height="4" patternUnits="userSpaceOnUse" patternTransform="translate(179,0) rotate(-45)"><rect x="0.9513" width="1.17" height="4" fill="#000"/></pattern></defs>
<rect x="167.70" y="318.40" width="11.70" height="118.40" fill="url(#p1g3)"/>
<rect x="179.40" y="326.60" width="11.70" height="110.20" fill="url(#p2g3)"/>
<rect x="191.10" y="335.00" width="11.70" height="101.80" fill="url(#p3)"/>
<path d="M167.70,436.8 V318.4 H179.40 V326.6 H191.10 V335 H202.80 V436.8" fill="none" stroke="#000" stroke-width="0.8"/>
<line x1="171.75" y1="317.40" x2="175.35" y2="317.40" stroke="#000" stroke-width="1.2" />
<line x1="173.55" y1="317.40" x2="173.55" y2="318.40" stroke="#000" stroke-width="0.9" />
<line x1="183.45" y1="325.60" x2="187.05" y2="325.60" stroke="#000" stroke-width="1.2" />
<line x1="185.25" y1="325.60" x2="185.25" y2="326.60" stroke="#000" stroke-width="0.9" />
<line x1="195.15" y1="334.00" x2="198.75" y2="334.00" stroke="#000" stroke-width="1.2" />
<line x1="196.95" y1="334.00" x2="196.95" y2="335.00" stroke="#000" stroke-width="0.9" />
<line x1="228.45" y1="436.80" x2="228.45" y2="440.10" stroke="#222" stroke-width="1.2" />
<text x="220.78" y="455.30" font-family="Liberation Serif, serif" font-weight="bold" font-size="15" fill="#111" stroke="#111" stroke-width="0.3" textLength="15.00" lengthAdjust="spacingAndGlyphs">24</text>
<defs><pattern id="p1g4" width="2.12132" height="4" patternUnits="userSpaceOnUse" patternTransform="translate(223,0) rotate(45)"><rect width="1.17" height="4" fill="#000"/></pattern><pattern id="p2g4" width="2.12132" height="4" patternUnits="userSpaceOnUse" patternTransform="translate(223,0) rotate(-45)"><rect x="0.9513" width="1.17" height="4" fill="#000"/></pattern></defs>
<rect x="210.90" y="317.60" width="11.70" height="119.20" fill="url(#p1g4)"/>
<rect x="222.60" y="326.00" width="11.70" height="110.80" fill="url(#p2g4)"/>
<rect x="234.30" y="333.60" width="11.70" height="103.20" fill="url(#p3)"/>
<path d="M210.90,436.8 V317.6 H222.60 V326 H234.30 V333.6 H246.00 V436.8" fill="none" stroke="#000" stroke-width="0.8"/>
<line x1="214.95" y1="316.60" x2="218.55" y2="316.60" stroke="#000" stroke-width="1.2" />
<line x1="216.75" y1="316.60" x2="216.75" y2="317.60" stroke="#000" stroke-width="0.9" />
<line x1="226.65" y1="325.00" x2="230.25" y2="325.00" stroke="#000" stroke-width="1.2" />
<line x1="228.45" y1="325.00" x2="228.45" y2="326.00" stroke="#000" stroke-width="0.9" />
<line x1="238.35" y1="332.60" x2="241.95" y2="332.60" stroke="#000" stroke-width="1.2" />
<line x1="240.15" y1="332.60" x2="240.15" y2="333.60" stroke="#000" stroke-width="0.9" />
<polyline points="43.5,316 43.5,300 66.5,300 66.5,336.2" fill="none" stroke="#222" stroke-width="1.3"/>
<text x="55.00" y="301.10" font-family="Liberation Serif, serif" font-weight="bold" font-size="9" text-anchor="middle" fill="#555" stroke="#555" stroke-width="0.35" textLength="13.8" lengthAdjust="spacing">***</text>
<polyline points="87.4,315 87.4,303.4 110,303.4 110,335" fill="none" stroke="#222" stroke-width="1.3"/>
<text x="98.70" y="304.50" font-family="Liberation Serif, serif" font-weight="bold" font-size="9" text-anchor="middle" fill="#555" stroke="#555" stroke-width="0.35" textLength="13.8" lengthAdjust="spacing">***</text>
<polyline points="129.6,315 129.6,304.6 154,304.6 154,333.5" fill="none" stroke="#222" stroke-width="1.3"/>
<text x="141.80" y="305.70" font-family="Liberation Serif, serif" font-weight="bold" font-size="9" text-anchor="middle" fill="#555" stroke="#555" stroke-width="0.35" textLength="13.8" lengthAdjust="spacing">***</text>
<polyline points="173.6,315 173.6,307.6 197,307.6 197,331" fill="none" stroke="#222" stroke-width="1.3"/>
<text x="185.30" y="308.70" font-family="Liberation Serif, serif" font-weight="bold" font-size="9" text-anchor="middle" fill="#555" stroke="#555" stroke-width="0.35" textLength="13.8" lengthAdjust="spacing">***</text>
<polyline points="216.6,314 216.6,305 240.4,305 240.4,330" fill="none" stroke="#222" stroke-width="1.3"/>
<text x="228.50" y="306.10" font-family="Liberation Serif, serif" font-weight="bold" font-size="9" text-anchor="middle" fill="#555" stroke="#555" stroke-width="0.35" textLength="13.8" lengthAdjust="spacing">***</text>
<rect x="34.4" y="243.4" width="215.2" height="193.4" fill="none" stroke="#222" stroke-width="1.5"/>
<text x="37.31" y="259.70" font-family="Liberation Serif, serif" font-weight="bold" font-size="15.9" fill="#111" stroke="#111" stroke-width="0.3" textLength="11.61" lengthAdjust="spacingAndGlyphs">C</text>
<text transform="translate(16.10,405.24) rotate(-90) scale(0.92,1)" font-family="Liberation Serif, serif" font-weight="bold" font-size="16.3" fill="#111" stroke="#111" stroke-width="0.45" textLength="141.55" lengthAdjust="spacing">Thickness increase</text>
<text x="116.67" y="471.70" font-family="Liberation Serif, serif" font-weight="bold" font-size="15.9" fill="#111" stroke="#111" stroke-width="0.3" textLength="52.66" lengthAdjust="spacingAndGlyphs">Time (h)</text>
<rect x="172.8" y="251.70000000000002" width="17.7" height="9.50" fill="url(#p1)" stroke="#000" stroke-width="0.9"/>
<text x="195.23" y="260.40" font-family="Liberation Serif, serif" font-weight="bold" font-size="12.3" fill="#111" stroke="#111" stroke-width="0.3" textLength="52.72" lengthAdjust="spacingAndGlyphs">ColMA-Tr</text>
<rect x="172.8" y="268.09999999999997" width="17.7" height="8.80" fill="url(#p2)" stroke="#000" stroke-width="0.9"/>
<text x="193.75" y="276.00" font-family="Liberation Serif, serif" font-weight="bold" font-size="12.3" fill="#111" stroke="#111" stroke-width="0.3" textLength="35.43" lengthAdjust="spacingAndGlyphs">ColMA</text>
<rect x="172.8" y="283.79999999999995" width="17.7" height="8.80" fill="url(#p3)" stroke="#000" stroke-width="0.9"/>
<text x="193.75" y="292.50" font-family="Liberation Serif, serif" font-weight="bold" font-size="12.3" fill="#111" stroke="#111" stroke-width="0.3" textLength="16.95" lengthAdjust="spacingAndGlyphs">Col</text>
<line x1="313.00" y1="423.30" x2="316.20" y2="423.30" stroke="#222" stroke-width="1.2" />
<text x="285.91" y="428.20" font-family="Liberation Serif, serif" font-weight="bold" font-size="15.3" fill="#111" stroke="#111" stroke-width="0.3" textLength="25.17" lengthAdjust="spacingAndGlyphs">1.08</text>
<line x1="313.00" y1="391.80" x2="316.20" y2="391.80" stroke="#222" stroke-width="1.2" />
<text x="285.98" y="396.70" font-family="Liberation Serif, serif" font-weight="bold" font-size="15.3" fill="#111" stroke="#111" stroke-width="0.3" textLength="25.17" lengthAdjust="spacingAndGlyphs">1.10</text>
<line x1="313.00" y1="360.30" x2="316.20" y2="360.30" stroke="#222" stroke-width="1.2" />
<text x="286.05" y="365.20" font-family="Liberation Serif, serif" font-weight="bold" font-size="15.3" fill="#111" stroke="#111" stroke-width="0.3" textLength="25.17" lengthAdjust="spacingAndGlyphs">1.12</text>
<line x1="313.00" y1="328.80" x2="316.20" y2="328.80" stroke="#222" stroke-width="1.2" />
<text x="285.70" y="333.70" font-family="Liberation Serif, serif" font-weight="bold" font-size="15.3" fill="#111" stroke="#111" stroke-width="0.3" textLength="25.17" lengthAdjust="spacingAndGlyphs">1.14</text>
<line x1="313.00" y1="297.30" x2="316.20" y2="297.30" stroke="#222" stroke-width="1.2" />
<text x="285.85" y="302.20" font-family="Liberation Serif, serif" font-weight="bold" font-size="15.3" fill="#111" stroke="#111" stroke-width="0.3" textLength="25.17" lengthAdjust="spacingAndGlyphs">1.16</text>
<line x1="313.00" y1="265.80" x2="316.20" y2="265.80" stroke="#222" stroke-width="1.2" />
<text x="285.91" y="270.70" font-family="Liberation Serif, serif" font-weight="bold" font-size="15.3" fill="#111" stroke="#111" stroke-width="0.3" textLength="25.17" lengthAdjust="spacingAndGlyphs">1.18</text>
<line x1="314.40" y1="407.55" x2="316.20" y2="407.55" stroke="#222" stroke-width="1.0" />
<line x1="314.40" y1="376.05" x2="316.20" y2="376.05" stroke="#222" stroke-width="1.0" />
<line x1="314.40" y1="344.55" x2="316.20" y2="344.55" stroke="#222" stroke-width="1.0" />
<line x1="314.40" y1="313.05" x2="316.20" y2="313.05" stroke="#222" stroke-width="1.0" />
<line x1="314.40" y1="281.55" x2="316.20" y2="281.55" stroke="#222" stroke-width="1.0" />
<line x1="316.40" y1="439.00" x2="316.40" y2="442.30" stroke="#222" stroke-width="1.2" />
<text x="312.72" y="457.90" font-family="Liberation Serif, serif" font-weight="bold" font-size="15" fill="#111" stroke="#111" stroke-width="0.3" textLength="7.35" lengthAdjust="spacingAndGlyphs">0</text>
<line x1="357.90" y1="439.00" x2="357.90" y2="442.30" stroke="#222" stroke-width="1.2" />
<text x="354.20" y="457.90" font-family="Liberation Serif, serif" font-weight="bold" font-size="15" fill="#111" stroke="#111" stroke-width="0.3" textLength="7.35" lengthAdjust="spacingAndGlyphs">5</text>
<line x1="399.40" y1="439.00" x2="399.40" y2="442.30" stroke="#222" stroke-width="1.2" />
<text x="391.74" y="457.90" font-family="Liberation Serif, serif" font-weight="bold" font-size="15" fill="#111" stroke="#111" stroke-width="0.3" textLength="14.70" lengthAdjust="spacingAndGlyphs">10</text>
<line x1="440.90" y1="439.00" x2="440.90" y2="442.30" stroke="#222" stroke-width="1.2" />
<text x="433.23" y="457.90" font-family="Liberation Serif, serif" font-weight="bold" font-size="15" fill="#111" stroke="#111" stroke-width="0.3" textLength="14.70" lengthAdjust="spacingAndGlyphs">15</text>
<line x1="482.40" y1="439.00" x2="482.40" y2="442.30" stroke="#222" stroke-width="1.2" />
<text x="475.02" y="457.90" font-family="Liberation Serif, serif" font-weight="bold" font-size="15" fill="#111" stroke="#111" stroke-width="0.3" textLength="14.70" lengthAdjust="spacingAndGlyphs">20</text>
<line x1="523.90" y1="439.00" x2="523.90" y2="442.30" stroke="#222" stroke-width="1.2" />
<text x="516.51" y="457.90" font-family="Liberation Serif, serif" font-weight="bold" font-size="15" fill="#111" stroke="#111" stroke-width="0.3" textLength="14.70" lengthAdjust="spacingAndGlyphs">25</text>
<line x1="337.15" y1="439.00" x2="337.15" y2="440.80" stroke="#222" stroke-width="1.0" />
<line x1="378.65" y1="439.00" x2="378.65" y2="440.80" stroke="#222" stroke-width="1.0" />
<line x1="420.15" y1="439.00" x2="420.15" y2="440.80" stroke="#222" stroke-width="1.0" />
<line x1="461.65" y1="439.00" x2="461.65" y2="440.80" stroke="#222" stroke-width="1.0" />
<line x1="503.15" y1="439.00" x2="503.15" y2="440.80" stroke="#222" stroke-width="1.0" />
<rect x="316.2" y="250.3" width="227.8" height="188.7" fill="none" stroke="#222" stroke-width="1.5"/>
<text x="320.36" y="268.00" font-family="Liberation Serif, serif" font-weight="bold" font-size="15.3" fill="#111" stroke="#111" stroke-width="0.3" textLength="9.70" lengthAdjust="spacingAndGlyphs">D</text>
<text transform="translate(281.20,419.78) rotate(-90) scale(0.92,1)" font-family="Liberation Serif, serif" font-weight="bold" font-size="16" fill="#111" stroke="#111" stroke-width="0.45" textLength="158.87" lengthAdjust="spacing">Surface area increase</text>
<text x="399.47" y="477.20" font-family="Liberation Serif, serif" font-weight="bold" font-size="15.9" fill="#111" stroke="#111" stroke-width="0.3" textLength="52.05" lengthAdjust="spacingAndGlyphs">Time (h)</text>
<polyline points="333.00,400.60 366.20,390.50 416.00,357.00 465.80,348.60 515.60,340.00" fill="none" stroke="#737373" stroke-width="1.25" stroke-linejoin="round"/>
<line x1="333.00" y1="389.90" x2="333.00" y2="411.30" stroke="#737373" stroke-width="0.9" />
<line x1="331.00" y1="389.90" x2="335.00" y2="389.90" stroke="#737373" stroke-width="1.1" />
<line x1="331.00" y1="411.30" x2="335.00" y2="411.30" stroke="#737373" stroke-width="1.1" />
<rect x="331.20" y="398.80" width="3.60" height="3.60" fill="#737373"/>
<line x1="366.20" y1="382.70" x2="366.20" y2="398.30" stroke="#737373" stroke-width="0.9" />
<line x1="364.20" y1="382.70" x2="368.20" y2="382.70" stroke="#737373" stroke-width="1.1" />
<line x1="364.20" y1="398.30" x2="368.20" y2="398.30" stroke="#737373" stroke-width="1.1" />
<rect x="364.40" y="388.70" width="3.60" height="3.60" fill="#737373"/>
<line x1="416.00" y1="350.20" x2="416.00" y2="363.80" stroke="#737373" stroke-width="0.9" />
<line x1="414.00" y1="350.20" x2="418.00" y2="350.20" stroke="#737373" stroke-width="1.1" />
<line x1="414.00" y1="363.80" x2="418.00" y2="363.80" stroke="#737373" stroke-width="1.1" />
<rect x="414.20" y="355.20" width="3.60" height="3.60" fill="#737373"/>
<line x1="465.80" y1="344.70" x2="465.80" y2="352.50" stroke="#737373" stroke-width="0.9" />
<line x1="463.80" y1="344.70" x2="467.80" y2="344.70" stroke="#737373" stroke-width="1.1" />
<line x1="463.80" y1="352.50" x2="467.80" y2="352.50" stroke="#737373" stroke-width="1.1" />
<rect x="464.00" y="346.80" width="3.60" height="3.60" fill="#737373"/>
<line x1="515.60" y1="335.80" x2="515.60" y2="344.20" stroke="#737373" stroke-width="0.9" />
<line x1="513.60" y1="335.80" x2="517.60" y2="335.80" stroke="#737373" stroke-width="1.1" />
<line x1="513.60" y1="344.20" x2="517.60" y2="344.20" stroke="#737373" stroke-width="1.1" />
<rect x="513.80" y="338.20" width="3.60" height="3.60" fill="#737373"/>
<polyline points="333.00,353.40 366.20,350.40 416.00,336.00 465.80,329.60 515.60,319.00" fill="none" stroke="#f4303a" stroke-width="1.25" stroke-linejoin="round"/>
<line x1="333.00" y1="351.90" x2="333.00" y2="354.90" stroke="#f4303a" stroke-width="0.9" />
<line x1="331.00" y1="351.90" x2="335.00" y2="351.90" stroke="#f4303a" stroke-width="1.1" />
<line x1="331.00" y1="354.90" x2="335.00" y2="354.90" stroke="#f4303a" stroke-width="1.1" />
<circle cx="333.00" cy="353.40" r="2.10" fill="#f4303a"/>
<line x1="366.20" y1="346.60" x2="366.20" y2="354.20" stroke="#f4303a" stroke-width="0.9" />
<line x1="364.20" y1="346.60" x2="368.20" y2="346.60" stroke="#f4303a" stroke-width="1.1" />
<line x1="364.20" y1="354.20" x2="368.20" y2="354.20" stroke="#f4303a" stroke-width="1.1" />
<circle cx="366.20" cy="350.40" r="2.10" fill="#f4303a"/>
<line x1="416.00" y1="330.00" x2="416.00" y2="342.00" stroke="#f4303a" stroke-width="0.9" />
<line x1="414.00" y1="330.00" x2="418.00" y2="330.00" stroke="#f4303a" stroke-width="1.1" />
<line x1="414.00" y1="342.00" x2="418.00" y2="342.00" stroke="#f4303a" stroke-width="1.1" />
<circle cx="416.00" cy="336.00" r="2.10" fill="#f4303a"/>
<line x1="465.80" y1="326.00" x2="465.80" y2="333.20" stroke="#f4303a" stroke-width="0.9" />
<line x1="463.80" y1="326.00" x2="467.80" y2="326.00" stroke="#f4303a" stroke-width="1.1" />
<line x1="463.80" y1="333.20" x2="467.80" y2="333.20" stroke="#f4303a" stroke-width="1.1" />
<circle cx="465.80" cy="329.60" r="2.10" fill="#f4303a"/>
<line x1="515.60" y1="314.50" x2="515.60" y2="323.50" stroke="#f4303a" stroke-width="0.9" />
<line x1="513.60" y1="314.50" x2="517.60" y2="314.50" stroke="#f4303a" stroke-width="1.1" />
<line x1="513.60" y1="323.50" x2="517.60" y2="323.50" stroke="#f4303a" stroke-width="1.1" />
<circle cx="515.60" cy="319.00" r="2.10" fill="#f4303a"/>
<polyline points="333.00,333.60 366.20,321.60 416.00,304.40 465.80,290.40 515.60,279.60" fill="none" stroke="#1a6fe4" stroke-width="1.25" stroke-linejoin="round"/>
<line x1="333.00" y1="330.60" x2="333.00" y2="336.60" stroke="#1a6fe4" stroke-width="0.9" />
<line x1="331.00" y1="330.60" x2="335.00" y2="330.60" stroke="#1a6fe4" stroke-width="1.1" />
<line x1="331.00" y1="336.60" x2="335.00" y2="336.60" stroke="#1a6fe4" stroke-width="1.1" />
<path d="M333.00,331.20 L335.30,335.40 L330.70,335.40 Z" fill="#1a6fe4"/>
<line x1="366.20" y1="315.10" x2="366.20" y2="328.10" stroke="#1a6fe4" stroke-width="0.9" />
<line x1="364.20" y1="315.10" x2="368.20" y2="315.10" stroke="#1a6fe4" stroke-width="1.1" />
<line x1="364.20" y1="328.10" x2="368.20" y2="328.10" stroke="#1a6fe4" stroke-width="1.1" />
<path d="M366.20,319.20 L368.50,323.40 L363.90,323.40 Z" fill="#1a6fe4"/>
<line x1="416.00" y1="299.60" x2="416.00" y2="309.20" stroke="#1a6fe4" stroke-width="0.9" />
<line x1="414.00" y1="299.60" x2="418.00" y2="299.60" stroke="#1a6fe4" stroke-width="1.1" />
<line x1="414.00" y1="309.20" x2="418.00" y2="309.20" stroke="#1a6fe4" stroke-width="1.1" />
<path d="M416.00,302.00 L418.30,306.20 L413.70,306.20 Z" fill="#1a6fe4"/>
<line x1="465.80" y1="286.10" x2="465.80" y2="294.70" stroke="#1a6fe4" stroke-width="0.9" />
<line x1="463.80" y1="286.10" x2="467.80" y2="286.10" stroke="#1a6fe4" stroke-width="1.1" />
<line x1="463.80" y1="294.70" x2="467.80" y2="294.70" stroke="#1a6fe4" stroke-width="1.1" />
<path d="M465.80,288.00 L468.10,292.20 L463.50,292.20 Z" fill="#1a6fe4"/>
<line x1="515.60" y1="274.30" x2="515.60" y2="284.90" stroke="#1a6fe4" stroke-width="0.9" />
<line x1="513.60" y1="274.30" x2="517.60" y2="274.30" stroke="#1a6fe4" stroke-width="1.1" />
<line x1="513.60" y1="284.90" x2="517.60" y2="284.90" stroke="#1a6fe4" stroke-width="1.1" />
<path d="M515.60,277.20 L517.90,281.40 L513.30,281.40 Z" fill="#1a6fe4"/>
<line x1="456.00" y1="385.00" x2="474.00" y2="385.00" stroke="#737373" stroke-width="1.15" />
<rect x="463.02" y="383.02" width="3.96" height="3.96" fill="#737373"/>
<text x="478.14" y="388.40" font-family="Liberation Serif, serif" font-weight="bold" font-size="11.8" fill="#111" stroke="#111" stroke-width="0.3" textLength="51.50" lengthAdjust="spacingAndGlyphs">ColMA-Tr</text>
<line x1="456.00" y1="400.40" x2="474.00" y2="400.40" stroke="#f4303a" stroke-width="1.15" />
<circle cx="465.00" cy="400.40" r="2.31" fill="#f4303a"/>
<text x="477.17" y="403.60" font-family="Liberation Serif, serif" font-weight="bold" font-size="11.8" fill="#111" stroke="#111" stroke-width="0.3" textLength="34.31" lengthAdjust="spacingAndGlyphs">ColMA</text>
<line x1="456.00" y1="415.60" x2="474.00" y2="415.60" stroke="#1a6fe4" stroke-width="1.15" />
<path d="M465.00,412.96 L467.53,417.58 L462.47,417.58 Z" fill="#1a6fe4"/>
<text x="477.17" y="419.20" font-family="Liberation Serif, serif" font-weight="bold" font-size="11.8" fill="#111" stroke="#111" stroke-width="0.3" textLength="16.21" lengthAdjust="spacingAndGlyphs">Col</text>
</svg>
</body></html>
